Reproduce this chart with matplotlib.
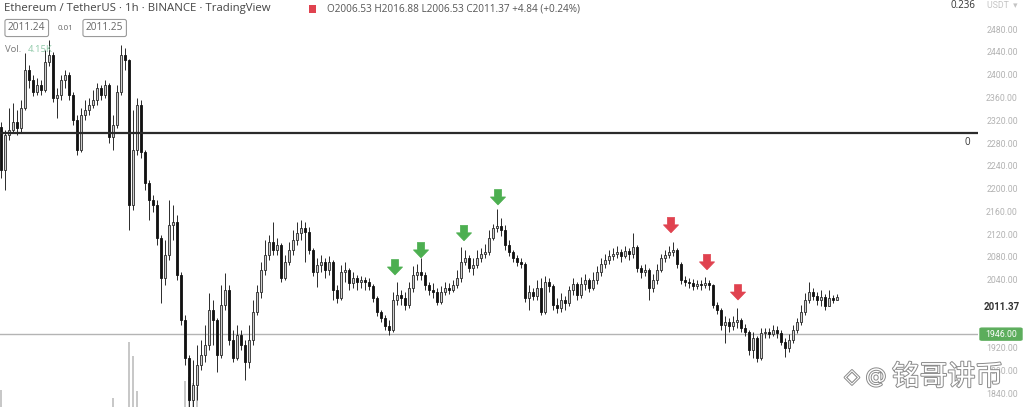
import numpy as np
import matplotlib
matplotlib.use("Agg")
import matplotlib.pyplot as plt
from matplotlib.patches import Polygon, FancyBboxPatch
import matplotlib.patheffects as pe

# === ETH/USDT 1h candles ===
first_open = 2310
closes = [
    2234, 2296, 2304, 2318, 2308, 2343, 2410, 2392, 2371, 2383,
    2375, 2424, 2436, 2361, 2366, 2392, 2401, 2366, 2322, 2269,
    2331, 2340, 2348, 2357, 2378, 2366, 2383, 2292, 2313, 2371,
    2436, 2427, 2173, 2269, 2348, 2266, 2211, 2181, 2173, 2115,
    2045, 2085, 2138, 2143, 2050, 1971, 1904, 1830, 1857, 1892,
    1909, 1927, 1988, 1971, 1909, 1997, 2023, 1936, 1904, 1944,
    1927, 1897, 1936, 1985, 2020, 2059, 2085, 2108, 2094, 2102,
    2045, 2073, 2094, 2111, 2124, 2132, 2125, 2094, 2055, 2067,
    2073, 2059, 2073, 2023, 2009, 2055, 2059, 2036, 2045, 2038,
    2041, 2038, 2031, 2009, 1985, 1974, 1960, 1953, 2006, 2015,
    2009, 1997, 2027, 2050, 2055, 2050, 2032, 2023, 2020, 2002,
    2020, 2027, 2023, 2032, 2045, 2073, 2080, 2062, 2067, 2080,
    2087, 2090, 2115, 2132, 2136, 2129, 2102, 2090, 2080, 2073,
    2069, 2009, 2020, 2013, 2027, 1985, 2038, 2031, 1997, 1992,
    2006, 2001, 2023, 2034, 2015, 2034, 2041, 2027, 2041, 2055,
    2069, 2076, 2083, 2087, 2090, 2083, 2092, 2087, 2099, 2062,
    2055, 2059, 2027, 2041, 2059, 2080, 2085, 2090, 2094, 2069,
    2041, 2038, 2036, 2031, 2034, 2032, 2036, 2032, 1997, 1988,
    1962, 1967, 1960, 1967, 1971, 1957, 1950, 1918, 1939, 1904,
    1948, 1950, 1946, 1953, 1948, 1932, 1922, 1936, 1953, 1967,
    1985, 2006, 2020, 2013, 2006, 2011, 1995, 2009, 2006.53, 2011.37,
]
highs = [
    2318, 2304, 2343, 2352, 2340, 2357, 2440, 2419, 2401, 2396,
    2392, 2445, 2462, 2441, 2378, 2401, 2410, 2406, 2371, 2331,
    2343, 2357, 2361, 2375, 2387, 2383, 2392, 2387, 2331, 2383,
    2454, 2448, 2430, 2340, 2361, 2357, 2269, 2217, 2190, 2181,
    2120, 2111, 2181, 2173, 2155, 2055, 1980, 1909, 1901, 1927,
    1936, 1962, 2018, 2006, 1974, 2032, 2053, 2032, 1953, 1962,
    1953, 1936, 1962, 2006, 2032, 2073, 2111, 2120, 2143, 2115,
    2106, 2085, 2108, 2129, 2143, 2146, 2143, 2134, 2097, 2080,
    2085, 2080, 2083, 2076, 2032, 2067, 2073, 2062, 2055, 2050,
    2048, 2046, 2045, 2034, 2013, 1988, 1980, 1971, 2020, 2038,
    2023, 2020, 2038, 2066, 2069, 2080, 2055, 2038, 2036, 2027,
    2030, 2038, 2036, 2041, 2059, 2099, 2094, 2085, 2080, 2094,
    2097, 2104, 2129, 2139, 2166, 2150, 2138, 2111, 2094, 2085,
    2080, 2073, 2032, 2027, 2041, 2045, 2048, 2045, 2034, 2009,
    2018, 2013, 2030, 2045, 2038, 2046, 2052, 2045, 2055, 2066,
    2080, 2087, 2094, 2097, 2101, 2095, 2101, 2097, 2124, 2102,
    2067, 2069, 2062, 2052, 2069, 2087, 2094, 2101, 2108, 2097,
    2073, 2048, 2045, 2043, 2041, 2041, 2046, 2041, 2034, 2002,
    1992, 1978, 1974, 1978, 1992, 1974, 1964, 1953, 1950, 1943,
    1957, 1957, 1957, 1962, 1960, 1953, 1939, 1946, 1962, 1974,
    1997, 2018, 2038, 2027, 2020, 2023, 2016, 2023, 2015, 2016.88,
]
lows = [
    2220, 2199, 2287, 2299, 2296, 2301, 2340, 2378, 2364, 2366,
    2366, 2371, 2417, 2354, 2325, 2357, 2378, 2357, 2313, 2261,
    2266, 2322, 2331, 2343, 2348, 2357, 2361, 2282, 2269, 2308,
    2366, 2410, 2129, 2164, 2261, 2255, 2199, 2146, 2160, 2102,
    2001, 2032, 2076, 2111, 2041, 1962, 1892, 1812, 1812, 1830,
    1883, 1897, 1918, 1927, 1879, 1904, 1988, 1927, 1897, 1901,
    1918, 1865, 1886, 1927, 1980, 2009, 2050, 2076, 2085, 2085,
    2038, 2041, 2067, 2085, 2102, 2111, 2073, 2087, 2048, 2029,
    2055, 2045, 2050, 2006, 2001, 2006, 2038, 2023, 2027, 2023,
    2027, 2023, 2023, 2002, 1978, 1967, 1953, 1944, 1950, 1997,
    1997, 1988, 1992, 2020, 2041, 2041, 2023, 2015, 2009, 1997,
    1999, 2015, 2016, 2020, 2027, 2038, 2067, 2055, 2050, 2062,
    2073, 2080, 2085, 2111, 2125, 2118, 2094, 2083, 2073, 2066,
    2062, 2002, 1988, 2006, 2006, 1980, 1981, 2020, 1988, 1983,
    1985, 1988, 1995, 2015, 2006, 2009, 2023, 2020, 2023, 2034,
    2048, 2062, 2069, 2076, 2080, 2073, 2080, 2076, 2080, 2055,
    2045, 2048, 2006, 2020, 2034, 2055, 2073, 2080, 2083, 2062,
    2034, 2031, 2027, 2023, 2025, 2023, 2027, 2023, 1992, 1981,
    1953, 1930, 1950, 1953, 1957, 1950, 1943, 1909, 1904, 1897,
    1901, 1939, 1939, 1943, 1939, 1927, 1906, 1915, 1930, 1948,
    1962, 1980, 2001, 2006, 1997, 1995, 1988, 2001, 2001, 2006.53,
]

# volume overlay (only the bars that show above the bottom edge)
vol_idx = [0, 28, 32, 33, 34, 46, 47, 48, 49]
vol_val = [4.1, 2.2, 16.0, 12.5, 4.0, 6.5, 7.5, 6.0, 5.0]

# signal arrows: candle index, price at the arrow tip
green_idx = [98.5, 105, 115.75, 124.25]
green_px = [2050, 2080, 2110, 2173]
red_idx = [167.5, 176.5, 184.25]
red_px = [2124, 2059, 2006]

level_zero = 2299      # black fib line ("0")
level_gray = 1946      # grey line with green price tag
last_price = 2011.37
axis_ticks = [2480, 2440, 2400, 2360, 2320, 2280, 2240, 2200, 2160,
              2120, 2080, 2040, 1920, 1880, 1840]

# === figure ===
W, H = 1024, 407
YLO, YHI = 1818, 2533
fig = plt.figure(figsize=(W / 100, H / 100), dpi=100)
fig.patch.set_facecolor("white")
plot_w = 978 / W
ax = fig.add_axes([0, 0, plot_w, 1])
ax.set_xlim(-0.25, 244.25)
ax.set_ylim(YLO, YHI)
ax.axis("off")

# volume first, behind the candles
vax = fig.add_axes([0, 0, plot_w, 1], sharex=ax)
vax.set_ylim(0, max(vol_val) * H / 65)
vax.bar(vol_idx, vol_val, width=0.7, color="#c8c8c8", zorder=1)
vax.axis("off")
vax.set_zorder(0)
ax.set_zorder(1)
ax.patch.set_visible(False)

opens = np.array([first_open] + closes[:-1], dtype=float)
closes_a = np.array(closes, dtype=float)
highs_a = np.maximum(np.array(highs, dtype=float), np.maximum(opens, closes_a))
lows_a = np.minimum(np.array(lows, dtype=float), np.minimum(opens, closes_a))
idx = np.arange(len(closes_a))
up = closes_a >= opens

ax.vlines(idx, lows_a, highs_a, color="#2a2a2a", linewidth=0.7, zorder=2)
body_lo = np.minimum(opens, closes_a)
body_h = np.maximum(np.abs(closes_a - opens), 1.2)
ax.bar(idx[up], body_h[up], bottom=body_lo[up], width=0.72,
       color="#cfcfcf", edgecolor="#2a2a2a", linewidth=0.6, zorder=3)
ax.bar(idx[~up], body_h[~up], bottom=body_lo[~up], width=0.72,
       color="#111111", edgecolor="#111111", linewidth=0.6, zorder=3)

# horizontal levels
ax.axhline(level_zero, color="#2b2b2b", linewidth=1.6, zorder=4)
ax.text(0.992, level_zero - 6, "0", transform=ax.get_yaxis_transform(),
        ha="right", va="top", fontsize=7, color="#333333", family="Open Sans")
ax.axhline(level_gray, color="#b4b4b4", linewidth=1.0, zorder=1.5)


def down_arrow(x, tip, color):
    # block arrow pointing down, tip at (x, tip)
    hw, sw = 1.9, 0.9          # half widths in candle units
    hh, sh = 14, 13            # head / shaft heights in price units
    pts = [(x, tip), (x - hw, tip + hh), (x - sw, tip + hh),
           (x - sw, tip + hh + sh), (x + sw, tip + hh + sh),
           (x + sw, tip + hh), (x + hw, tip + hh)]
    ax.add_patch(Polygon(pts, closed=True, facecolor=color,
                         edgecolor=color, linewidth=0.5, zorder=5))


for gx, gp in zip(green_idx, green_px):
    down_arrow(gx, gp, "#4caf50")
for rx, rp in zip(red_idx, red_px):
    down_arrow(rx, rp, "#e0424f")


def fy(price):
    return (price - YLO) / (YHI - YLO)


# right price scale
tick_col = "#b3b3b3"
for t in axis_ticks:
    fig.text(1002 / W, fy(t), f"{t:.2f}", ha="center", va="center",
             fontsize=6.3, color=tick_col, family="Roboto")
fig.text(1002 / W, 1 - 5 / H, "USDT  \u25be", ha="center", va="center",
         fontsize=6.3, color="#c4c4c4", family=["Roboto", "DejaVu Sans"])
fig.text(975 / W, 1 - 5 / H, "0.236", ha="right", va="center",
         fontsize=7, color="#333333", family="Open Sans")

# last price and grey level tag
fig.text(1002 / W, fy(last_price) - 10 / H, f"{last_price:.2f}", ha="center",
         va="center", fontsize=7, color="#333333", family="Roboto",
         fontweight="bold")
fig.patches.append(FancyBboxPatch((980 / W, fy(level_gray) - 6 / H), 42 / W, 12 / H,
                                  boxstyle="round,pad=0,rounding_size=0.002",
                                  transform=fig.transFigure, facecolor="#5cad5c",
                                  edgecolor="#5cad5c", figure=fig))
fig.text(1001 / W, fy(level_gray), f"{level_gray:.2f}", ha="center", va="center",
         fontsize=6.3, color="white", family="Roboto")

# header
fig.text(4 / W, 1 - 9 / H, "Ethereum / TetherUS \u00b7 1h \u00b7 BINANCE \u00b7 TradingView",
         fontsize=8.2, color="#444444", family="Open Sans", va="center")
fig.patches.append(plt.Rectangle((309 / W, 1 - 13 / H), 7 / W, 8 / H,
                                 transform=fig.transFigure, facecolor="#e0424f",
                                 edgecolor="none", figure=fig))
fig.text(327 / W, 1 - 9 / H, "O2006.53 H2016.88 L2006.53 C2011.37 +4.84 (+0.24%)",
         fontsize=7.2, color="#555555", family="Open Sans", va="center")
box = dict(boxstyle="round,pad=0.3,rounding_size=0.2", facecolor="white",
           edgecolor="#9a9a9a", linewidth=0.8)
fig.text(8 / W, 1 - 28 / H, "2011.24", fontsize=7.3, color="#666666",
         family="Open Sans", va="center", bbox=box)
fig.text(58 / W, 1 - 28 / H, "0.01", fontsize=5.8, color="#666666",
         family="Open Sans", va="center")
fig.text(86 / W, 1 - 28 / H, "2011.25", fontsize=7.3, color="#666666",
         family="Open Sans", va="center", bbox=box)
fig.text(5 / W, 1 - 49 / H, "Vol.", fontsize=6.8, color="#777777",
         family="Open Sans", va="center")
fig.text(28 / W, 1 - 49 / H, "4.15K", fontsize=6.8, color="#8fc9a8",
         family="Open Sans", va="center")

# watermark (sits over the 1880 label, as in the screenshot)
outline = [pe.withStroke(linewidth=1.4, foreground="#8a8a8a")]
fig.text(852 / W, 30 / H, "\u25c8", fontsize=14, color="white", ha="center",
         va="center", family="DejaVu Sans", path_effects=outline)
fig.text(876 / W, 30 / H, "@", fontsize=15, color="white", ha="center",
         va="center", family="DejaVu Sans", path_effects=outline)
fig.text(892 / W, 30 / H, "铭哥讲币", fontsize=20, color="white", ha="left",
         va="center", family="Noto Sans CJK SC", path_effects=outline)

fig.savefig("out.png", dpi=100, facecolor="white")
